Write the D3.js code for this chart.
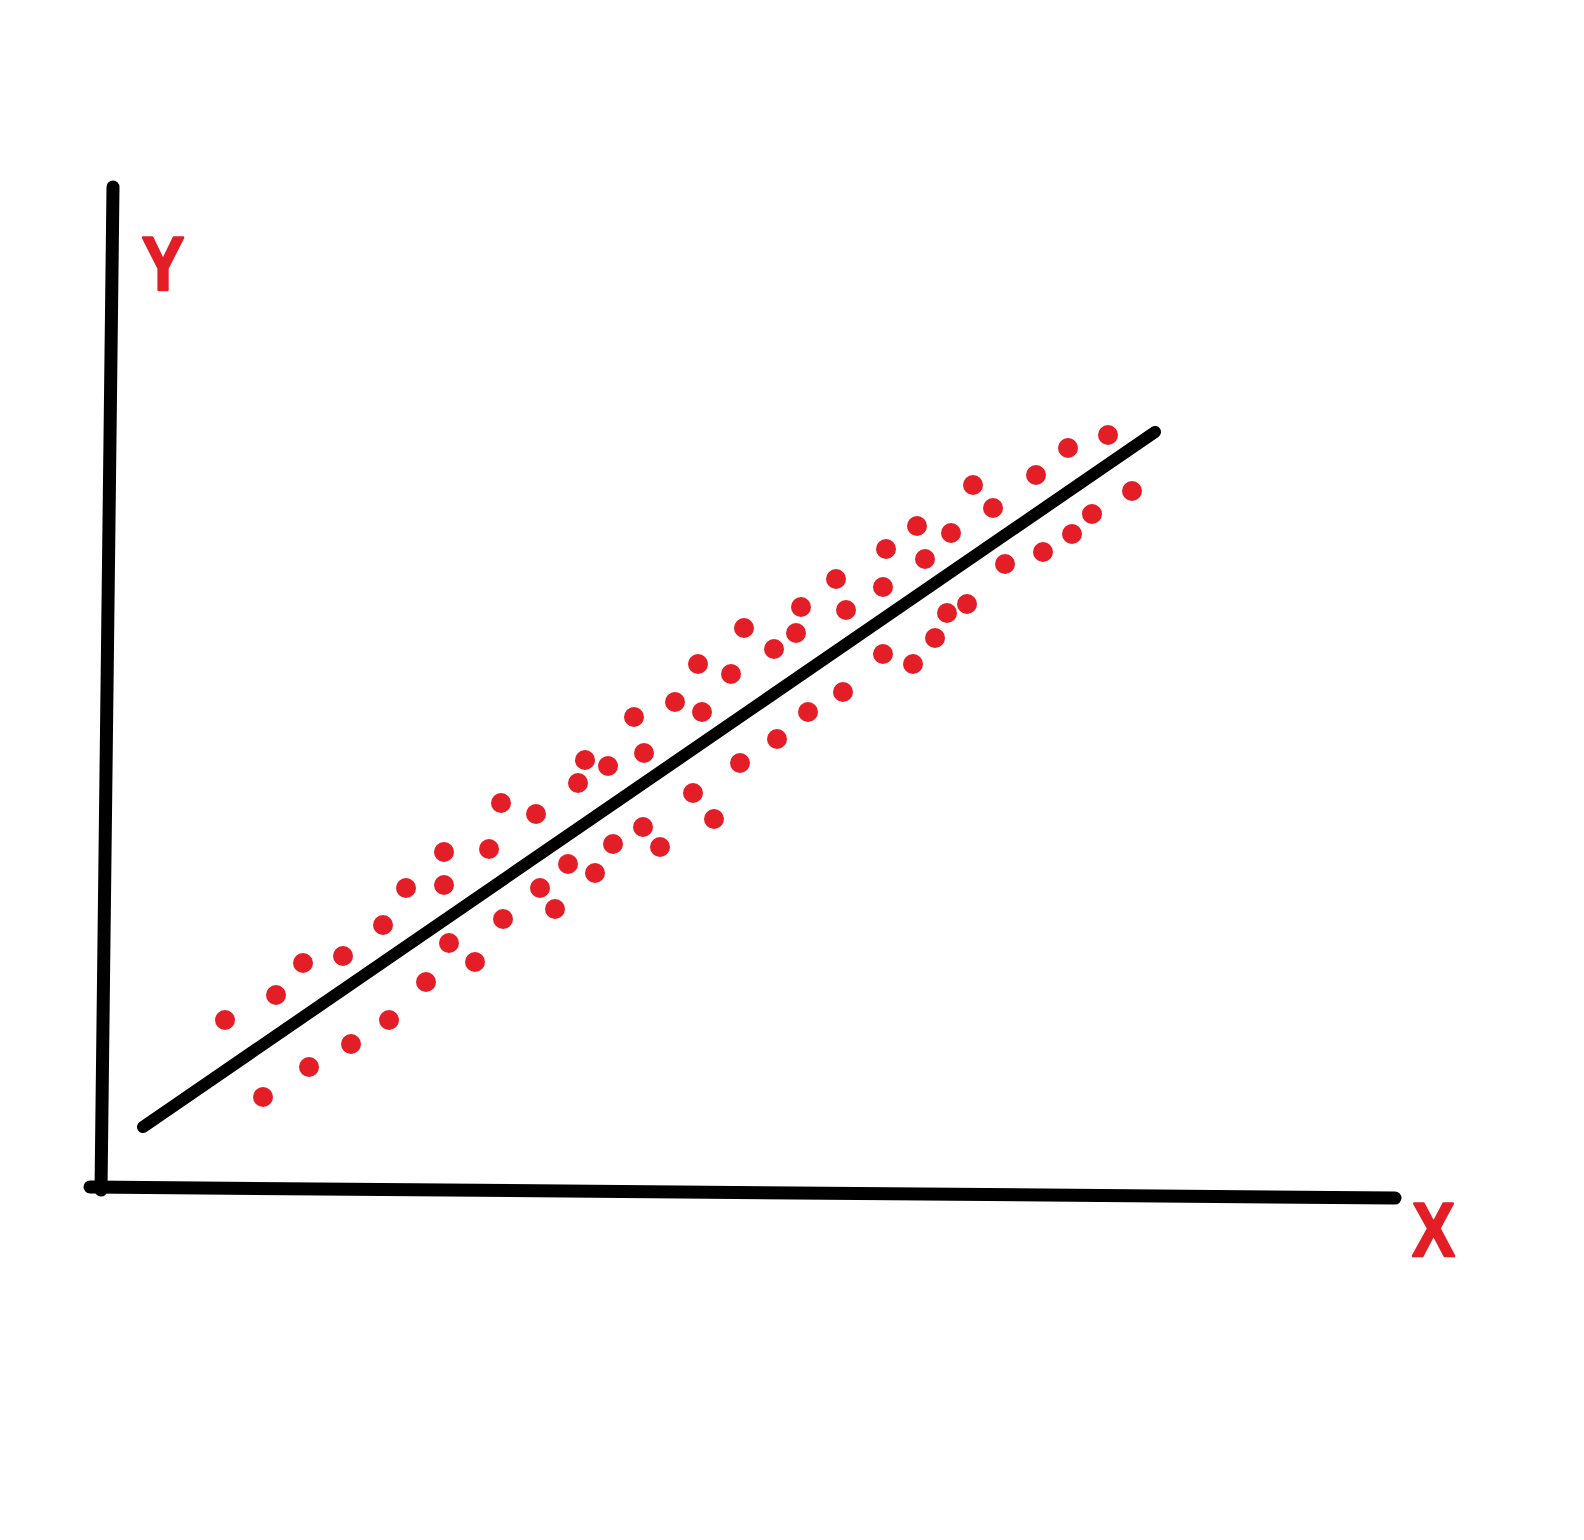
<!DOCTYPE html>
<html>
<head>
<meta charset="utf-8">
<script src="https://cdn.jsdelivr.net/npm/d3@7"></script>
<style>
  html, body { margin: 0; padding: 0; background: #ffffff; }
  svg { display: block; }
</style>
</head>
<body>
<div id="chart"></div>
<script>
// Points above the trend line (x, y in data units)
const upperX = [12.5,17.6,20.3,24.3,28.3,30.6,34.4,34.4,38.9,40.1,43.6,47.8,48.5,50.8,54.4,53.4,57.5,60.2,59.8,63.1,64.4,67.4,70.1,69.6,74.6,73.6,78.3,78.6,81.7,82.5,85.1,87.3,89.3,93.6,96.8,100.8];
const upperY = [17.0,19.5,22.7,23.4,26.5,30.2,30.5,33.8,34.1,38.7,37.6,40.7,43.0,42.4,43.7,47.3,48.8,47.8,52.6,51.6,56.2,54.1,58.3,55.7,58.0,61.1,60.3,64.1,66.4,63.1,65.7,70.5,68.2,71.5,74.2,75.5];
// Points below the trend line
const lowerX = [16.3,20.9,25.1,28.9,32.6,34.9,37.5,40.3,44.0,45.5,46.8,49.5,51.3,54.3,56.0,59.3,61.4,64.0,67.7,70.8,74.3,78.3,81.3,83.5,84.7,86.7,90.5,94.3,97.2,99.2,103.2];
const lowerY = [9.3,12.3,14.6,17.0,20.8,24.7,22.8,27.1,30.2,28.1,32.6,31.7,34.6,36.3,34.3,39.7,37.1,42.7,45.1,47.8,49.8,53.6,52.6,55.2,57.7,58.6,62.6,63.8,65.6,67.6,69.9];
// Trend line end points
const lineX = [4.3, 105.5];
const lineY = [6.3, 75.8];
// Hand-drawn axes end points
const yAxisX = [0.1, 1.3];
const yAxisY = [0, 100.3];
const xAxisX = [-1.0, 129.5];
const xAxisY = [0.3, -0.8];
// Axis labels
const axisLabels = ["Y", "X"];
const labelX = [6.3, 133.35];
const labelY = [90.0, -6.6];

const W = 1584, H = 1540;
const x = d3.scaleLinear().domain([0, 130]).range([100, 1400]);
const y = d3.scaleLinear().domain([0, 100]).range([1190, 190]);

const svg = d3.select("#chart").append("svg")
  .attr("width", W).attr("height", H)
  .style("background", "#ffffff");

const line = d3.line().x(d => x(d[0])).y(d => y(d[1]));

// axes
svg.append("path")
  .datum(d3.zip(yAxisX, yAxisY))
  .attr("d", line)
  .attr("fill", "none").attr("stroke", "#000").attr("stroke-width", 13)
  .attr("stroke-linecap", "round");
svg.append("path")
  .datum(d3.zip(xAxisX, xAxisY))
  .attr("d", line)
  .attr("fill", "none").attr("stroke", "#000").attr("stroke-width", 13)
  .attr("stroke-linecap", "round");

// points
const pts = d3.zip(upperX, upperY).concat(d3.zip(lowerX, lowerY));
svg.append("g").selectAll("circle")
  .data(pts).join("circle")
  .attr("cx", d => x(d[0]))
  .attr("cy", d => y(d[1]))
  .attr("r", 10)
  .attr("fill", "#e31e26");

// trend line
svg.append("path")
  .datum(d3.zip(lineX, lineY))
  .attr("d", line)
  .attr("fill", "none").attr("stroke", "#000").attr("stroke-width", 12)
  .attr("stroke-linecap", "round");

// labels
svg.append("g").selectAll("text")
  .data(d3.zip(axisLabels, labelX, labelY)).join("text")
  .attr("transform", d => `translate(${x(d[1])},${y(d[2])}) scale(0.84,1)`)
  .attr("text-anchor", "middle")
  .attr("font-family", "Liberation Sans, Arial, sans-serif")
  .attr("font-weight", "bold")
  .attr("font-size", 76)
  .attr("fill", "#e31e26")
  .attr("stroke", "#e31e26")
  .attr("stroke-width", 2.5)
  .attr("stroke-linejoin", "round")
  .text(d => d[0]);
</script>
</body>
</html>
